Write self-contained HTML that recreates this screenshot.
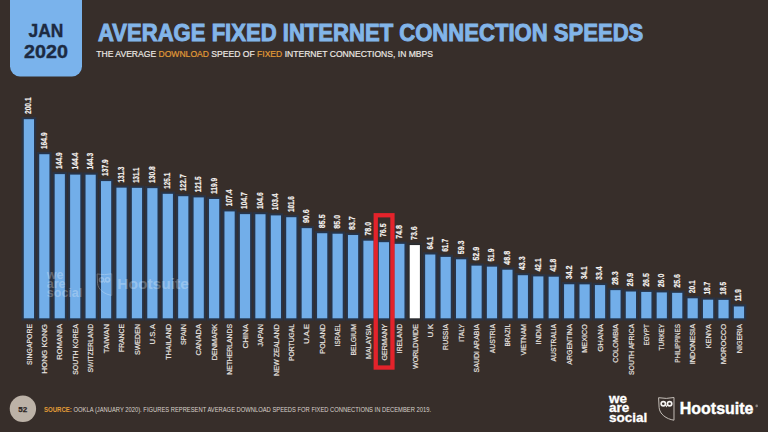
<!DOCTYPE html>
<html><head><meta charset="utf-8"><style>
html,body{margin:0;padding:0;width:768px;height:432px;overflow:hidden;background:#372e2a;}
svg{display:block}
text{font-family:"Liberation Sans",sans-serif;}
</style></head><body>
<svg width="768" height="432" viewBox="0 0 768 432">
<rect width="768" height="432" fill="#372e2a"/>
<!-- date box -->
<path d="M10,0 H82 V66.4 A10,10 0 0 1 72,76.4 H20 A10,10 0 0 1 10,66.4 Z" fill="#7ab3ec"/>
<text x="46" y="37.4" font-size="18.6" font-weight="bold" fill="#1d2b42" stroke="#1d2b42" stroke-width="0.4" text-anchor="middle" textLength="34.8" lengthAdjust="spacingAndGlyphs">JAN</text>
<text x="46" y="57.5" font-size="18.6" font-weight="bold" fill="#1d2b42" stroke="#1d2b42" stroke-width="0.4" text-anchor="middle" textLength="43.9" lengthAdjust="spacingAndGlyphs">2020</text>
<!-- title -->
<text x="98" y="40.8" font-size="24.7" font-weight="bold" fill="#82b5e9" stroke="#82b5e9" stroke-width="1.0" textLength="545.3" lengthAdjust="spacingAndGlyphs">AVERAGE FIXED INTERNET CONNECTION SPEEDS</text>
<text x="96.3" y="57.0" font-size="9.6" fill="#ece8e3" stroke="#ece8e3" stroke-width="0.2" textLength="336.7" lengthAdjust="spacingAndGlyphs">THE AVERAGE <tspan fill="#e29c37" stroke="#e29c37">DOWNLOAD</tspan> SPEED OF <tspan fill="#e29c37" stroke="#e29c37">FIXED</tspan> INTERNET CONNECTIONS, IN MBPS</text>
<!-- bars -->
<g><rect x="21.50" y="116.90" width="14.80" height="203.70" fill="#2d3340"/><rect x="22.60" y="118.00" width="12.60" height="201.50" fill="#25354d"/><rect x="23.80" y="119.20" width="10.20" height="199.10" fill="#72aee9"/><rect x="36.94" y="151.92" width="14.80" height="168.68" fill="#2d3340"/><rect x="38.04" y="153.02" width="12.60" height="166.48" fill="#25354d"/><rect x="39.24" y="154.22" width="10.20" height="164.08" fill="#72aee9"/><rect x="52.37" y="171.82" width="14.80" height="148.78" fill="#2d3340"/><rect x="53.47" y="172.92" width="12.60" height="146.58" fill="#25354d"/><rect x="54.67" y="174.12" width="10.20" height="144.18" fill="#72aee9"/><rect x="67.81" y="172.32" width="14.80" height="148.28" fill="#2d3340"/><rect x="68.91" y="173.42" width="12.60" height="146.08" fill="#25354d"/><rect x="70.11" y="174.62" width="10.20" height="143.68" fill="#72aee9"/><rect x="83.24" y="172.42" width="14.80" height="148.18" fill="#2d3340"/><rect x="84.34" y="173.52" width="12.60" height="145.98" fill="#25354d"/><rect x="85.54" y="174.72" width="10.20" height="143.58" fill="#72aee9"/><rect x="98.68" y="178.79" width="14.80" height="141.81" fill="#2d3340"/><rect x="99.78" y="179.89" width="12.60" height="139.61" fill="#25354d"/><rect x="100.98" y="181.09" width="10.20" height="137.21" fill="#72aee9"/><rect x="114.12" y="185.36" width="14.80" height="135.24" fill="#2d3340"/><rect x="115.22" y="186.46" width="12.60" height="133.04" fill="#25354d"/><rect x="116.42" y="187.66" width="10.20" height="130.64" fill="#72aee9"/><rect x="129.55" y="185.56" width="14.80" height="135.04" fill="#2d3340"/><rect x="130.65" y="186.66" width="12.60" height="132.84" fill="#25354d"/><rect x="131.85" y="187.86" width="10.20" height="130.44" fill="#72aee9"/><rect x="144.99" y="185.85" width="14.80" height="134.75" fill="#2d3340"/><rect x="146.09" y="186.95" width="12.60" height="132.55" fill="#25354d"/><rect x="147.29" y="188.15" width="10.20" height="130.15" fill="#72aee9"/><rect x="160.42" y="191.53" width="14.80" height="129.07" fill="#2d3340"/><rect x="161.52" y="192.63" width="12.60" height="126.87" fill="#25354d"/><rect x="162.72" y="193.83" width="10.20" height="124.47" fill="#72aee9"/><rect x="175.86" y="193.91" width="14.80" height="126.69" fill="#2d3340"/><rect x="176.96" y="195.01" width="12.60" height="124.49" fill="#25354d"/><rect x="178.16" y="196.21" width="10.20" height="122.09" fill="#72aee9"/><rect x="191.30" y="195.11" width="14.80" height="125.49" fill="#2d3340"/><rect x="192.40" y="196.21" width="12.60" height="123.29" fill="#25354d"/><rect x="193.60" y="197.41" width="10.20" height="120.89" fill="#72aee9"/><rect x="206.73" y="196.70" width="14.80" height="123.90" fill="#2d3340"/><rect x="207.83" y="197.80" width="12.60" height="121.70" fill="#25354d"/><rect x="209.03" y="199.00" width="10.20" height="119.30" fill="#72aee9"/><rect x="222.17" y="209.14" width="14.80" height="111.46" fill="#2d3340"/><rect x="223.27" y="210.24" width="12.60" height="109.26" fill="#25354d"/><rect x="224.47" y="211.44" width="10.20" height="106.86" fill="#72aee9"/><rect x="237.60" y="211.82" width="14.80" height="108.78" fill="#2d3340"/><rect x="238.70" y="212.92" width="12.60" height="106.58" fill="#25354d"/><rect x="239.90" y="214.12" width="10.20" height="104.18" fill="#72aee9"/><rect x="253.04" y="211.92" width="14.80" height="108.68" fill="#2d3340"/><rect x="254.14" y="213.02" width="12.60" height="106.48" fill="#25354d"/><rect x="255.34" y="214.22" width="10.20" height="104.08" fill="#72aee9"/><rect x="268.48" y="213.12" width="14.80" height="107.48" fill="#2d3340"/><rect x="269.58" y="214.22" width="12.60" height="105.28" fill="#25354d"/><rect x="270.78" y="215.42" width="10.20" height="102.88" fill="#72aee9"/><rect x="283.91" y="214.91" width="14.80" height="105.69" fill="#2d3340"/><rect x="285.01" y="216.01" width="12.60" height="103.49" fill="#25354d"/><rect x="286.21" y="217.21" width="10.20" height="101.09" fill="#72aee9"/><rect x="299.35" y="225.85" width="14.80" height="94.75" fill="#2d3340"/><rect x="300.45" y="226.95" width="12.60" height="92.55" fill="#25354d"/><rect x="301.65" y="228.15" width="10.20" height="90.15" fill="#72aee9"/><rect x="314.78" y="230.93" width="14.80" height="89.67" fill="#2d3340"/><rect x="315.88" y="232.03" width="12.60" height="87.47" fill="#25354d"/><rect x="317.08" y="233.23" width="10.20" height="85.07" fill="#72aee9"/><rect x="330.22" y="231.43" width="14.80" height="89.17" fill="#2d3340"/><rect x="331.32" y="232.53" width="12.60" height="86.98" fill="#25354d"/><rect x="332.52" y="233.73" width="10.20" height="84.58" fill="#72aee9"/><rect x="345.66" y="232.72" width="14.80" height="87.88" fill="#2d3340"/><rect x="346.76" y="233.82" width="12.60" height="85.68" fill="#25354d"/><rect x="347.96" y="235.02" width="10.20" height="83.28" fill="#72aee9"/><rect x="361.09" y="238.39" width="14.80" height="82.21" fill="#2d3340"/><rect x="362.19" y="239.49" width="12.60" height="80.01" fill="#25354d"/><rect x="363.39" y="240.69" width="10.20" height="77.61" fill="#72aee9"/><rect x="376.53" y="239.88" width="14.80" height="80.72" fill="#2d3340"/><rect x="377.63" y="240.98" width="12.60" height="78.52" fill="#25354d"/><rect x="378.83" y="242.18" width="10.20" height="76.12" fill="#72aee9"/><rect x="391.96" y="241.57" width="14.80" height="79.03" fill="#2d3340"/><rect x="393.06" y="242.67" width="12.60" height="76.83" fill="#25354d"/><rect x="394.26" y="243.87" width="10.20" height="74.43" fill="#72aee9"/><rect x="407.40" y="242.77" width="14.80" height="77.83" fill="#2f3238"/><rect x="408.50" y="243.87" width="12.60" height="75.63" fill="#2a2a2c"/><rect x="409.70" y="245.07" width="10.20" height="73.23" fill="#ffffff"/><rect x="422.84" y="252.22" width="14.80" height="68.38" fill="#2d3340"/><rect x="423.94" y="253.32" width="12.60" height="66.18" fill="#25354d"/><rect x="425.14" y="254.52" width="10.20" height="63.78" fill="#72aee9"/><rect x="438.27" y="254.61" width="14.80" height="65.99" fill="#2d3340"/><rect x="439.37" y="255.71" width="12.60" height="63.79" fill="#25354d"/><rect x="440.57" y="256.91" width="10.20" height="61.39" fill="#72aee9"/><rect x="453.71" y="257.00" width="14.80" height="63.60" fill="#2d3340"/><rect x="454.81" y="258.10" width="12.60" height="61.40" fill="#25354d"/><rect x="456.01" y="259.30" width="10.20" height="59.00" fill="#72aee9"/><rect x="469.14" y="263.36" width="14.80" height="57.24" fill="#2d3340"/><rect x="470.24" y="264.46" width="12.60" height="55.04" fill="#25354d"/><rect x="471.44" y="265.66" width="10.20" height="52.64" fill="#72aee9"/><rect x="484.58" y="264.36" width="14.80" height="56.24" fill="#2d3340"/><rect x="485.68" y="265.46" width="12.60" height="54.04" fill="#25354d"/><rect x="486.88" y="266.66" width="10.20" height="51.64" fill="#72aee9"/><rect x="500.02" y="267.44" width="14.80" height="53.16" fill="#2d3340"/><rect x="501.12" y="268.54" width="12.60" height="50.96" fill="#25354d"/><rect x="502.32" y="269.74" width="10.20" height="48.56" fill="#72aee9"/><rect x="515.45" y="272.92" width="14.80" height="47.68" fill="#2d3340"/><rect x="516.55" y="274.02" width="12.60" height="45.48" fill="#25354d"/><rect x="517.75" y="275.22" width="10.20" height="43.08" fill="#72aee9"/><rect x="530.89" y="274.11" width="14.80" height="46.49" fill="#2d3340"/><rect x="531.99" y="275.21" width="12.60" height="44.29" fill="#25354d"/><rect x="533.19" y="276.41" width="10.20" height="41.89" fill="#72aee9"/><rect x="546.32" y="274.41" width="14.80" height="46.19" fill="#2d3340"/><rect x="547.42" y="275.51" width="12.60" height="43.99" fill="#25354d"/><rect x="548.62" y="276.71" width="10.20" height="41.59" fill="#72aee9"/><rect x="561.76" y="281.97" width="14.80" height="38.63" fill="#2d3340"/><rect x="562.86" y="283.07" width="12.60" height="36.43" fill="#25354d"/><rect x="564.06" y="284.27" width="10.20" height="34.03" fill="#72aee9"/><rect x="577.20" y="282.07" width="14.80" height="38.53" fill="#2d3340"/><rect x="578.30" y="283.17" width="12.60" height="36.33" fill="#25354d"/><rect x="579.50" y="284.37" width="10.20" height="33.93" fill="#72aee9"/><rect x="592.63" y="282.77" width="14.80" height="37.83" fill="#2d3340"/><rect x="593.73" y="283.87" width="12.60" height="35.63" fill="#25354d"/><rect x="594.93" y="285.07" width="10.20" height="33.23" fill="#72aee9"/><rect x="608.07" y="287.84" width="14.80" height="32.76" fill="#2d3340"/><rect x="609.17" y="288.94" width="12.60" height="30.56" fill="#25354d"/><rect x="610.37" y="290.14" width="10.20" height="28.16" fill="#72aee9"/><rect x="623.50" y="289.23" width="14.80" height="31.37" fill="#2d3340"/><rect x="624.60" y="290.33" width="12.60" height="29.17" fill="#25354d"/><rect x="625.80" y="291.53" width="10.20" height="26.77" fill="#72aee9"/><rect x="638.94" y="289.63" width="14.80" height="30.97" fill="#2d3340"/><rect x="640.04" y="290.73" width="12.60" height="28.77" fill="#25354d"/><rect x="641.24" y="291.93" width="10.20" height="26.37" fill="#72aee9"/><rect x="654.38" y="290.13" width="14.80" height="30.47" fill="#2d3340"/><rect x="655.48" y="291.23" width="12.60" height="28.27" fill="#25354d"/><rect x="656.68" y="292.43" width="10.20" height="25.87" fill="#72aee9"/><rect x="669.81" y="290.53" width="14.80" height="30.07" fill="#2d3340"/><rect x="670.91" y="291.63" width="12.60" height="27.87" fill="#25354d"/><rect x="672.11" y="292.83" width="10.20" height="25.47" fill="#72aee9"/><rect x="685.25" y="296.00" width="14.80" height="24.60" fill="#2d3340"/><rect x="686.35" y="297.10" width="12.60" height="22.40" fill="#25354d"/><rect x="687.55" y="298.30" width="10.20" height="20.00" fill="#72aee9"/><rect x="700.68" y="297.39" width="14.80" height="23.21" fill="#2d3340"/><rect x="701.78" y="298.49" width="12.60" height="21.01" fill="#25354d"/><rect x="702.98" y="299.69" width="10.20" height="18.61" fill="#72aee9"/><rect x="716.12" y="297.59" width="14.80" height="23.01" fill="#2d3340"/><rect x="717.22" y="298.69" width="12.60" height="20.81" fill="#25354d"/><rect x="718.42" y="299.89" width="10.20" height="18.41" fill="#72aee9"/><rect x="731.56" y="304.16" width="14.80" height="16.44" fill="#2d3340"/><rect x="732.66" y="305.26" width="12.60" height="14.24" fill="#25354d"/><rect x="733.86" y="306.46" width="10.20" height="11.84" fill="#72aee9"/></g>
<g font-size="9.8" font-weight="bold" fill="#f6f3f0" stroke="#f6f3f0" stroke-width="0.2"><text transform="translate(31.30,114.10) rotate(-90)" textLength="16.79" lengthAdjust="spacingAndGlyphs">200.1</text><text transform="translate(46.74,149.12) rotate(-90)" textLength="16.79" lengthAdjust="spacingAndGlyphs">164.9</text><text transform="translate(62.17,169.02) rotate(-90)" textLength="16.79" lengthAdjust="spacingAndGlyphs">144.9</text><text transform="translate(77.61,169.52) rotate(-90)" textLength="16.79" lengthAdjust="spacingAndGlyphs">144.4</text><text transform="translate(93.04,169.62) rotate(-90)" textLength="16.79" lengthAdjust="spacingAndGlyphs">144.3</text><text transform="translate(108.48,175.99) rotate(-90)" textLength="16.79" lengthAdjust="spacingAndGlyphs">137.9</text><text transform="translate(123.92,182.56) rotate(-90)" textLength="15.96" lengthAdjust="spacingAndGlyphs">131.3</text><text transform="translate(139.35,182.76) rotate(-90)" textLength="15.14" lengthAdjust="spacingAndGlyphs">131.1</text><text transform="translate(154.79,183.05) rotate(-90)" textLength="16.79" lengthAdjust="spacingAndGlyphs">130.8</text><text transform="translate(170.22,188.73) rotate(-90)" textLength="15.96" lengthAdjust="spacingAndGlyphs">125.1</text><text transform="translate(185.66,191.11) rotate(-90)" textLength="16.79" lengthAdjust="spacingAndGlyphs">122.7</text><text transform="translate(201.10,192.31) rotate(-90)" textLength="15.96" lengthAdjust="spacingAndGlyphs">121.5</text><text transform="translate(216.53,193.90) rotate(-90)" textLength="15.96" lengthAdjust="spacingAndGlyphs">119.9</text><text transform="translate(231.97,206.34) rotate(-90)" textLength="16.79" lengthAdjust="spacingAndGlyphs">107.4</text><text transform="translate(247.40,209.02) rotate(-90)" textLength="16.79" lengthAdjust="spacingAndGlyphs">104.7</text><text transform="translate(262.84,209.12) rotate(-90)" textLength="16.79" lengthAdjust="spacingAndGlyphs">104.6</text><text transform="translate(278.28,210.32) rotate(-90)" textLength="16.79" lengthAdjust="spacingAndGlyphs">103.4</text><text transform="translate(293.71,212.11) rotate(-90)" textLength="15.96" lengthAdjust="spacingAndGlyphs">101.6</text><text transform="translate(309.15,223.05) rotate(-90)" textLength="13.70" lengthAdjust="spacingAndGlyphs">90.6</text><text transform="translate(324.58,228.13) rotate(-90)" textLength="13.70" lengthAdjust="spacingAndGlyphs">85.5</text><text transform="translate(340.02,228.63) rotate(-90)" textLength="13.70" lengthAdjust="spacingAndGlyphs">85.0</text><text transform="translate(355.46,229.92) rotate(-90)" textLength="13.70" lengthAdjust="spacingAndGlyphs">83.7</text><text transform="translate(370.89,235.59) rotate(-90)" textLength="13.70" lengthAdjust="spacingAndGlyphs">78.0</text><text transform="translate(386.33,237.08) rotate(-90)" textLength="13.70" lengthAdjust="spacingAndGlyphs">76.5</text><text transform="translate(401.76,238.77) rotate(-90)" textLength="13.70" lengthAdjust="spacingAndGlyphs">74.8</text><text transform="translate(417.20,239.97) rotate(-90)" textLength="13.70" lengthAdjust="spacingAndGlyphs">73.6</text><text transform="translate(432.64,249.42) rotate(-90)" textLength="12.88" lengthAdjust="spacingAndGlyphs">64.1</text><text transform="translate(448.07,251.81) rotate(-90)" textLength="12.88" lengthAdjust="spacingAndGlyphs">61.7</text><text transform="translate(463.51,254.20) rotate(-90)" textLength="13.70" lengthAdjust="spacingAndGlyphs">59.3</text><text transform="translate(478.94,260.56) rotate(-90)" textLength="13.70" lengthAdjust="spacingAndGlyphs">52.9</text><text transform="translate(494.38,261.56) rotate(-90)" textLength="12.88" lengthAdjust="spacingAndGlyphs">51.9</text><text transform="translate(509.82,264.64) rotate(-90)" textLength="13.70" lengthAdjust="spacingAndGlyphs">48.8</text><text transform="translate(525.25,270.12) rotate(-90)" textLength="13.70" lengthAdjust="spacingAndGlyphs">43.3</text><text transform="translate(540.69,271.31) rotate(-90)" textLength="12.88" lengthAdjust="spacingAndGlyphs">42.1</text><text transform="translate(556.12,271.61) rotate(-90)" textLength="12.88" lengthAdjust="spacingAndGlyphs">41.8</text><text transform="translate(571.56,279.17) rotate(-90)" textLength="13.70" lengthAdjust="spacingAndGlyphs">34.2</text><text transform="translate(587.00,279.27) rotate(-90)" textLength="12.88" lengthAdjust="spacingAndGlyphs">34.1</text><text transform="translate(602.43,279.97) rotate(-90)" textLength="13.70" lengthAdjust="spacingAndGlyphs">33.4</text><text transform="translate(617.87,285.04) rotate(-90)" textLength="13.70" lengthAdjust="spacingAndGlyphs">28.3</text><text transform="translate(633.30,286.43) rotate(-90)" textLength="13.70" lengthAdjust="spacingAndGlyphs">26.9</text><text transform="translate(648.74,286.83) rotate(-90)" textLength="13.70" lengthAdjust="spacingAndGlyphs">26.5</text><text transform="translate(664.18,287.33) rotate(-90)" textLength="13.70" lengthAdjust="spacingAndGlyphs">26.0</text><text transform="translate(679.61,287.73) rotate(-90)" textLength="13.70" lengthAdjust="spacingAndGlyphs">25.6</text><text transform="translate(695.05,293.20) rotate(-90)" textLength="12.88" lengthAdjust="spacingAndGlyphs">20.1</text><text transform="translate(710.48,294.59) rotate(-90)" textLength="12.88" lengthAdjust="spacingAndGlyphs">18.7</text><text transform="translate(725.92,294.79) rotate(-90)" textLength="12.88" lengthAdjust="spacingAndGlyphs">18.5</text><text transform="translate(741.36,301.36) rotate(-90)" textLength="12.05" lengthAdjust="spacingAndGlyphs">11.9</text></g>
<g font-size="7.1" fill="#ece8e3" text-anchor="end" stroke="#ece8e3" stroke-width="0.15"><text transform="translate(31.60,324.0) rotate(-90)" textLength="40.90" lengthAdjust="spacingAndGlyphs">SINGAPORE</text><text transform="translate(47.04,324.0) rotate(-90)" textLength="49.80" lengthAdjust="spacingAndGlyphs">HONG KONG</text><text transform="translate(62.47,324.0) rotate(-90)" textLength="35.80" lengthAdjust="spacingAndGlyphs">ROMANIA</text><text transform="translate(77.91,324.0) rotate(-90)" textLength="50.80" lengthAdjust="spacingAndGlyphs">SOUTH KOREA</text><text transform="translate(93.34,324.0) rotate(-90)" textLength="48.40" lengthAdjust="spacingAndGlyphs">SWITZERLAND</text><text transform="translate(108.78,324.0) rotate(-90)" textLength="29.20" lengthAdjust="spacingAndGlyphs">TAIWAN</text><text transform="translate(124.22,324.0) rotate(-90)" textLength="28.00" lengthAdjust="spacingAndGlyphs">FRANCE</text><text transform="translate(139.65,324.0) rotate(-90)" textLength="31.10" lengthAdjust="spacingAndGlyphs">SWEDEN</text><text transform="translate(155.09,324.0) rotate(-90)" textLength="20.50" lengthAdjust="spacingAndGlyphs">U.S.A</text><text transform="translate(170.52,324.0) rotate(-90)" textLength="35.80" lengthAdjust="spacingAndGlyphs">THAILAND</text><text transform="translate(185.96,324.0) rotate(-90)" textLength="21.00" lengthAdjust="spacingAndGlyphs">SPAIN</text><text transform="translate(201.40,324.0) rotate(-90)" textLength="31.60" lengthAdjust="spacingAndGlyphs">CANADA</text><text transform="translate(216.83,324.0) rotate(-90)" textLength="36.20" lengthAdjust="spacingAndGlyphs">DENMARK</text><text transform="translate(232.27,324.0) rotate(-90)" textLength="50.80" lengthAdjust="spacingAndGlyphs">NETHERLANDS</text><text transform="translate(247.70,324.0) rotate(-90)" textLength="24.50" lengthAdjust="spacingAndGlyphs">CHINA</text><text transform="translate(263.14,324.0) rotate(-90)" textLength="22.60" lengthAdjust="spacingAndGlyphs">JAPAN</text><text transform="translate(278.58,324.0) rotate(-90)" textLength="51.90" lengthAdjust="spacingAndGlyphs">NEW ZEALAND</text><text transform="translate(294.01,324.0) rotate(-90)" textLength="36.90" lengthAdjust="spacingAndGlyphs">PORTUGAL</text><text transform="translate(309.45,324.0) rotate(-90)" textLength="19.80" lengthAdjust="spacingAndGlyphs">U.A.E</text><text transform="translate(324.88,324.0) rotate(-90)" textLength="29.70" lengthAdjust="spacingAndGlyphs">POLAND</text><text transform="translate(340.32,324.0) rotate(-90)" textLength="22.20" lengthAdjust="spacingAndGlyphs">ISRAEL</text><text transform="translate(355.76,324.0) rotate(-90)" textLength="31.60" lengthAdjust="spacingAndGlyphs">BELGIUM</text><text transform="translate(371.19,324.0) rotate(-90)" textLength="35.00" lengthAdjust="spacingAndGlyphs">MALAYSIA</text><text transform="translate(386.63,324.0) rotate(-90)" textLength="36.60" lengthAdjust="spacingAndGlyphs">GERMANY</text><text transform="translate(402.06,324.0) rotate(-90)" textLength="29.20" lengthAdjust="spacingAndGlyphs">IRELAND</text><text transform="translate(417.50,324.0) rotate(-90)" textLength="45.10" lengthAdjust="spacingAndGlyphs">WORLDWIDE</text><text transform="translate(432.94,324.0) rotate(-90)" textLength="13.40" lengthAdjust="spacingAndGlyphs">U.K</text><text transform="translate(448.37,324.0) rotate(-90)" textLength="25.90" lengthAdjust="spacingAndGlyphs">RUSSIA</text><text transform="translate(463.81,324.0) rotate(-90)" textLength="17.70" lengthAdjust="spacingAndGlyphs">ITALY</text><text transform="translate(479.24,324.0) rotate(-90)" textLength="48.40" lengthAdjust="spacingAndGlyphs">SAUDI ARABIA</text><text transform="translate(494.68,324.0) rotate(-90)" textLength="29.20" lengthAdjust="spacingAndGlyphs">AUSTRIA</text><text transform="translate(510.12,324.0) rotate(-90)" textLength="22.40" lengthAdjust="spacingAndGlyphs">BRAZIL</text><text transform="translate(525.55,324.0) rotate(-90)" textLength="31.40" lengthAdjust="spacingAndGlyphs">VIETNAM</text><text transform="translate(540.99,324.0) rotate(-90)" textLength="20.40" lengthAdjust="spacingAndGlyphs">INDIA</text><text transform="translate(556.42,324.0) rotate(-90)" textLength="37.40" lengthAdjust="spacingAndGlyphs">AUSTRALIA</text><text transform="translate(571.86,324.0) rotate(-90)" textLength="40.70" lengthAdjust="spacingAndGlyphs">ARGENTINA</text><text transform="translate(587.30,324.0) rotate(-90)" textLength="28.70" lengthAdjust="spacingAndGlyphs">MEXICO</text><text transform="translate(602.73,324.0) rotate(-90)" textLength="27.80" lengthAdjust="spacingAndGlyphs">GHANA</text><text transform="translate(618.17,324.0) rotate(-90)" textLength="38.80" lengthAdjust="spacingAndGlyphs">COLOMBIA</text><text transform="translate(633.60,324.0) rotate(-90)" textLength="51.10" lengthAdjust="spacingAndGlyphs">SOUTH AFRICA</text><text transform="translate(649.04,324.0) rotate(-90)" textLength="21.60" lengthAdjust="spacingAndGlyphs">EGYPT</text><text transform="translate(664.48,324.0) rotate(-90)" textLength="26.50" lengthAdjust="spacingAndGlyphs">TURKEY</text><text transform="translate(679.91,324.0) rotate(-90)" textLength="38.80" lengthAdjust="spacingAndGlyphs">PHILIPPINES</text><text transform="translate(695.35,324.0) rotate(-90)" textLength="40.20" lengthAdjust="spacingAndGlyphs">INDONESIA</text><text transform="translate(710.78,324.0) rotate(-90)" textLength="24.30" lengthAdjust="spacingAndGlyphs">KENYA</text><text transform="translate(726.22,324.0) rotate(-90)" textLength="40.20" lengthAdjust="spacingAndGlyphs">MOROCCO</text><text transform="translate(741.66,324.0) rotate(-90)" textLength="29.20" lengthAdjust="spacingAndGlyphs">NIGERIA</text></g>
<!-- highlight -->
<rect x="375.75" y="215.25" width="16.7" height="152.3" fill="none" stroke="#e3232b" stroke-width="4.3"/>
<!-- watermark -->
<g fill="#ffffff" fill-opacity="0.27" font-weight="bold">
<text x="46.8" y="279.4" font-size="12.5">we</text>
<text x="46.8" y="288.4" font-size="12.5">are</text>
<text x="46.8" y="297.4" font-size="12.5">social</text>
<text x="117.2" y="288.6" font-size="15.5" textLength="71.7" lengthAdjust="spacingAndGlyphs">Hootsuite</text>
</g>
<g transform="translate(96.8,273.8) scale(0.95)" opacity="0.27"><path d="M0.3,0.2 Q8,1.7 15.7,0 L15.7,22.7 C8,21.6 1.2,16.5 0.8,10 Z" fill="none" stroke-width="1.0" stroke="#ffffff"/><circle cx="5.0" cy="6.3" r="2.15" fill="none" stroke-width="1.7" stroke="#ffffff"/><circle cx="11.3" cy="6.3" r="2.15" fill="none" stroke-width="1.7" stroke="#ffffff"/><path d="M7.0,7.8 L9.3,7.8 L8.15,10.0 Z" fill="#ffffff"/></g>
<!-- footer -->
<circle cx="22.9" cy="408.8" r="13.2" fill="#bcb2a7"/>
<text x="22.7" y="412.3" font-size="8" font-weight="bold" fill="#2a231f" stroke="#2a231f" stroke-width="0.25" text-anchor="middle">52</text>
<text x="43.9" y="412" font-size="7" font-weight="bold" fill="#e29c37" textLength="28" lengthAdjust="spacingAndGlyphs">SOURCE:</text>
<text x="73.6" y="412" font-size="6.8" fill="#d9d3cc" textLength="357.4" lengthAdjust="spacingAndGlyphs">OOKLA (JANUARY 2020). FIGURES REPRESENT AVERAGE DOWNLOAD SPEEDS FOR FIXED CONNECTIONS IN DECEMBER 2019.</text>
<g fill="#ffffff" font-weight="bold">
<text x="608.9" y="403.3" font-size="13.5" stroke="#ffffff" stroke-width="0.3">we</text>
<text x="608.9" y="412.4" font-size="13.5" stroke="#ffffff" stroke-width="0.3">are</text>
<text x="608.9" y="421.5" font-size="13.5" stroke="#ffffff" stroke-width="0.3">social</text>
<text x="679.8" y="413.6" font-size="17.2" stroke="#ffffff" stroke-width="0.45" textLength="73.6" lengthAdjust="spacingAndGlyphs">Hootsuite</text>
</g>
<circle cx="756.7" cy="405.9" r="1.3" fill="#8a8480"/>
<g transform="translate(658.3,397.5)"><path d="M0.3,0.2 Q8,1.7 15.7,0 L15.7,22.7 C8,21.6 1.2,16.5 0.8,10 Z" fill="none" stroke-width="1.0" stroke="#c4beb8"/><circle cx="5.0" cy="6.3" r="2.15" fill="none" stroke-width="1.7" stroke="#f6f4f2"/><circle cx="11.3" cy="6.3" r="2.15" fill="none" stroke-width="1.7" stroke="#f6f4f2"/><path d="M7.0,7.8 L9.3,7.8 L8.15,10.0 Z" fill="#f6f4f2"/></g>
</svg>
</body></html>
